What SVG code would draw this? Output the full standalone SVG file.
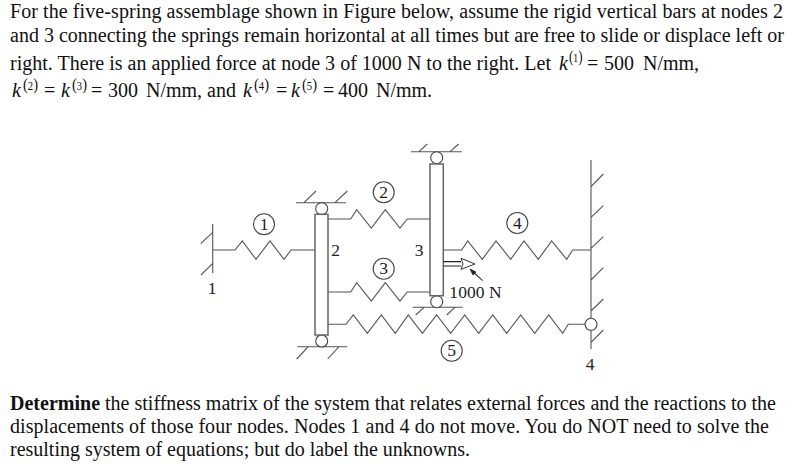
<svg xmlns="http://www.w3.org/2000/svg" width="803" height="475" viewBox="0 0 803 475">
<style>
.t{font:20px "Liberation Serif","Times New Roman",serif;fill:#111}
.i{font-style:italic}
.s{font-size:12.5px}
.p{font-size:17px}
.l{font:16px "Liberation Serif","Times New Roman",serif;fill:#222}
.n{font-size:17.5px}
.c{text-anchor:middle}
.w{fill:none;stroke:#555;stroke-width:1.1}
.b{fill:#fff;stroke:#666;stroke-width:1.5}
.r{fill:#fff;stroke:#444;stroke-width:1.1}
</style>
<rect width="803" height="475" fill="#fff"/>
<g id="problem-text">
<text class="t" x="10" y="17.5" textLength="773">For the five-spring assemblage shown in Figure below, assume the rigid vertical bars at nodes 2</text>
<text class="t" x="10" y="42" textLength="774">and 3 connecting the springs remain horizontal at all times but are free to slide or displace left or</text>
<text class="t" x="10" y="70" textLength="541">right. There is an applied force at node 3 of 1000 N to the right. Let</text>
<text class="t i" x="559" y="70">k</text><text class="t s" x="569" y="62" textLength="13.5" lengthAdjust="spacingAndGlyphs"><tspan class="p">(</tspan>1<tspan class="p">)</tspan></text>
<text class="t" x="587" y="70">=</text><text class="t" x="604" y="70">500</text><text class="t" x="643" y="70">N/mm,</text>
<text class="t i" x="12" y="97">k</text><text class="t s" x="23" y="90" textLength="15" lengthAdjust="spacingAndGlyphs"><tspan class="p">(</tspan>2<tspan class="p">)</tspan></text>
<text class="t" x="44" y="97">=</text>
<text class="t i" x="61" y="97">k</text><text class="t s" x="72" y="90" textLength="15" lengthAdjust="spacingAndGlyphs"><tspan class="p">(</tspan>3<tspan class="p">)</tspan></text>
<text class="t" x="91" y="97">=</text><text class="t" x="108" y="97">300</text><text class="t" x="146" y="97">N/mm, and</text>
<text class="t i" x="243" y="97">k</text><text class="t s" x="254" y="90" textLength="15" lengthAdjust="spacingAndGlyphs"><tspan class="p">(</tspan>4<tspan class="p">)</tspan></text>
<text class="t" x="276" y="97">=</text>
<text class="t i" x="291" y="97">k</text><text class="t s" x="302" y="90" textLength="15" lengthAdjust="spacingAndGlyphs"><tspan class="p">(</tspan>5<tspan class="p">)</tspan></text>
<text class="t" x="323" y="97">=</text><text class="t" x="338" y="97">400</text><text class="t" x="376" y="97">N/mm.</text>
<text class="t" x="10" y="410" textLength="766"><tspan font-weight="bold">Determine</tspan> the stiffness matrix of the system that relates external forces and the reactions to the</text>
<text class="t" x="10" y="433" textLength="759">displacements of those four nodes. Nodes 1 and 4 do not move. You do NOT need to solve the</text>
<text class="t" x="10" y="456" textLength="460">resulting system of equations; but do label the unknowns.</text>
</g>
<g id="connectors">
<path id="spring1" class="w" d="M212.7 250H235L242.3 241 256 259.3 270 241 284 259.3 291 250H315"/>
<path id="spring2" class="w" d="M328 219H350.7L356.7 209.7 371.3 228 385.3 209.7 400 228 407.3 219H430"/>
<path id="spring3" class="w" d="M328 292H350.7L356.7 282.7 371.3 301 385.3 282.7 400 301 407.3 292H430"/>
<path id="spring4" class="w" d="M443.3 250H461.7L467.7 241 482.3 259.3 496 241 510.7 259.3 524 241 538.3 259.3 551.7 241 566.7 259.3 572.7 250H591"/>
<path id="spring5" class="w" d="M328 324.3H346L353.3 315 367.3 333.3 381.3 315 395.3 333.3 408.3 315 422.3 333.3 436.7 315 450.7 333.3 464.7 315 478.7 333.3 492.7 315 506.7 333.3 520.7 315 534.7 333.3 548.7 315 562.7 333.3 568.3 324.3H585"/>
</g>
<g id="node1">
<path class="w" d="M212.7 224V273M212.7 232.3L200.7 243.7M212.7 263.3L201 275"/>
<text class="l n c" x="212" y="294">1</text>
</g>
<g id="node2">
<path class="w" d="M296 202.7H346M304 202.7L316 191M335 202.7L347.3 191M297.3 346.7H347.3M308.3 346.7L296.7 359M339 346.7L327.7 359"/>
<circle class="r" cx="321.7" cy="208.7" r="6"/>
<circle class="r" cx="321.7" cy="341" r="6"/>
<rect class="b" x="315" y="214.3" width="13" height="120.7"/>
<text class="l n c" x="335.7" y="256">2</text>
</g>
<g id="node3">
<path class="w" d="M411 151.7H461.7M419 151.7L427.3 144M450 151.7L458.7 144M412.7 307.3H462.7M415.7 315L424 307.3M446.7 315L455 307.3"/>
<circle class="r" cx="436.7" cy="157.7" r="6"/>
<circle class="r" cx="436.7" cy="301.7" r="6"/>
<rect class="b" x="430" y="164" width="13.3" height="131.7"/>
<text class="l n c" x="419" y="256">3</text>
</g>
<g id="node4">
<path class="w" d="M591 160V349M591 186.7L603.3 174M591 217.3L603.3 205.7M591 248.3L603.3 236.7M591 280L603.3 267.7M591 311L603.3 299M591 342.3L603.3 330"/>
<circle class="r" cx="591" cy="324.3" r="6"/>
<text class="l n c" x="590" y="370">4</text>
</g>
<g id="force">
<path d="M443.3 261.7H461M443.3 266H461" fill="none" stroke="#222" stroke-width="1.2"/>
<path d="M461 258.3L475 264 461 269.3 463 264Z" fill="#fff" stroke="#333" stroke-width="1"/>
<path d="M482.7 280.7L473 272" fill="none" stroke="#333" stroke-width="1.1"/>
<path d="M470 269L476 272 473 275Z" fill="#222" stroke="#222" stroke-width="0.8"/>
<text class="l n" x="449.3" y="298.3" textLength="52.4">1000 N</text>
</g>
<g id="labels">
<g id="label1"><circle class="r" cx="264" cy="224.3" r="10.5"/><text class="l n c" x="264" y="230">1</text></g>
<g id="label2"><circle class="r" cx="383.7" cy="192.3" r="10.5"/><text class="l n c" x="383.7" y="198">2</text></g>
<g id="label3"><circle class="r" cx="383.7" cy="268.7" r="10.5"/><text class="l n c" x="383.7" y="274.4">3</text></g>
<g id="label4"><circle class="r" cx="517.3" cy="223" r="10.5"/><text class="l n c" x="517.3" y="228.7">4</text></g>
<g id="label5"><circle class="r" cx="451.7" cy="350.7" r="10.5"/><text class="l n c" x="451.7" y="356.4">5</text></g>
</g>
</svg>
